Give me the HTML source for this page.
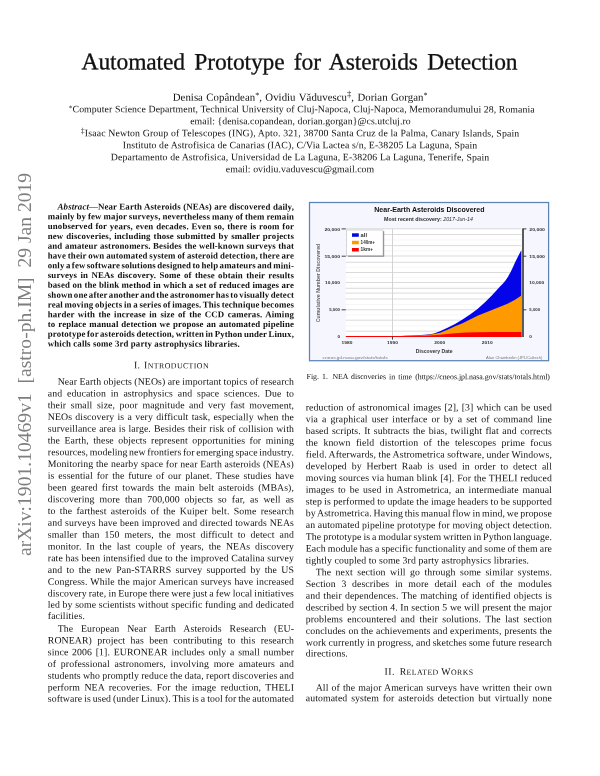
<!DOCTYPE html>
<html lang="en">
<head>
<meta charset="utf-8">
<title>Automated Prototype for Asteroids Detection</title>
<style>
html,body{margin:0;padding:0;background:#fff;}
body{width:600px;height:776px;position:relative;overflow:hidden;font-family:"Liberation Serif",serif;color:#111;}
.l{position:absolute;white-space:nowrap;margin:0;padding:0;font-weight:normal;}
.b{font-weight:bold;}
.b i{font-weight:bold;font-style:italic;}
sup{font-size:70%;vertical-align:baseline;position:relative;line-height:0;}
sup.st{top:-0.33em;font-size:74%;}
sup.dg{top:-0.42em;font-size:80%;}
.sc{font-size:80%;}
.stamp{position:absolute;white-space:nowrap;color:#7f7f7f;transform-origin:0 0;transform:rotate(-90deg);}
svg{position:absolute;}
.page{position:absolute;left:0;top:0;width:600px;height:776px;overflow:hidden;will-change:transform;}
</style>
</head>
<body>
<div class="page">
<h1 class="l t" style="left:81px;top:47px;transform:translate(0.60px,0.47px) rotate(0.03deg);font-size:23.50px;line-height:28.00px;letter-spacing:-0.116px;word-spacing:3.5px;-webkit-text-stroke:0.3px #111;">Automated Prototype for Asteroids Detection</h1>
<div class="l a" style="left:172px;top:90px;transform:translate(0.80px,0.76px) rotate(0.03deg);font-size:10.80px;line-height:13.00px;letter-spacing:0.027px;word-spacing:0.7px;">Denisa Copândean<sup class="st">*</sup>, Ovidiu Văduvescu<sup class="dg">‡</sup>, Dorian Gorgan<sup class="st">*</sup></div>
<div class="l f" style="left:68px;top:103px;transform:translate(0.80px,0.29px) rotate(0.03deg);font-size:9.80px;line-height:12.00px;letter-spacing:0.083px;"><sup class="st">*</sup>Computer Science Department, Technical University of Cluj-Napoca, Cluj-Napoca, Memorandumului 28, Romania</div>
<div class="l f" style="left:190px;top:115px;transform:translate(0.20px,0.29px) rotate(0.03deg);font-size:9.80px;line-height:12.00px;letter-spacing:0.053px;">email: {denisa.copandean, dorian.gorgan}@cs.utcluj.ro</div>
<div class="l f" style="left:80px;top:127px;transform:translate(0.80px,0.29px) rotate(0.03deg);font-size:9.80px;line-height:12.00px;letter-spacing:0.136px;"><sup class="dg">‡</sup>Isaac Newton Group of Telescopes (ING), Apto. 321, 38700 Santa Cruz de la Palma, Canary Islands, Spain</div>
<div class="l f" style="left:122px;top:139px;transform:translate(0.80px,0.29px) rotate(0.03deg);font-size:9.80px;line-height:12.00px;letter-spacing:0.121px;">Instituto de Astrofisica de Canarias (IAC), C/Via Lactea s/n, E-38205 La Laguna, Spain</div>
<div class="l f" style="left:110px;top:151px;transform:translate(0.80px,0.29px) rotate(0.03deg);font-size:9.80px;line-height:12.00px;letter-spacing:0.109px;">Departamento de Astrofisica, Universidad de La Laguna, E-38206 La Laguna, Tenerife, Spain</div>
<div class="l f" style="left:225px;top:163px;transform:translate(0.80px,0.29px) rotate(0.03deg);font-size:9.80px;line-height:12.00px;letter-spacing:0.062px;">email: ovidiu.vaduvescu@gmail.com</div>
<div class="l b" style="left:57px;top:202px;transform:translate(0.60px,0.58px) rotate(0.03deg);font-size:8.82px;line-height:9.79px;width:236.40px;word-spacing:0.102px;letter-spacing:0.130px;"><i>Abstract</i>—Near Earth Asteroids (NEAs) are discovered daily,</div>
<div class="l b" style="left:47px;top:212px;transform:translate(0.80px,0.37px) rotate(0.03deg);font-size:8.82px;line-height:9.79px;width:246.20px;word-spacing:-0.414px;letter-spacing:0.130px;">mainly by few major surveys, nevertheless many of them remain</div>
<div class="l b" style="left:47px;top:222px;transform:translate(0.80px,0.16px) rotate(0.03deg);font-size:8.82px;line-height:9.79px;width:246.20px;word-spacing:0.487px;letter-spacing:0.130px;">unobserved for years, even decades. Even so, there is room for</div>
<div class="l b" style="left:47px;top:231px;transform:translate(0.80px,0.95px) rotate(0.03deg);font-size:8.82px;line-height:9.79px;width:246.20px;word-spacing:0.633px;letter-spacing:0.130px;">new discoveries, including those submitted by smaller projects</div>
<div class="l b" style="left:47px;top:241px;transform:translate(0.80px,0.74px) rotate(0.03deg);font-size:8.82px;line-height:9.79px;width:246.20px;word-spacing:0.180px;letter-spacing:0.130px;">and amateur astronomers. Besides the well-known surveys that</div>
<div class="l b" style="left:47px;top:251px;transform:translate(0.80px,0.53px) rotate(0.03deg);font-size:8.82px;line-height:9.79px;width:246.20px;word-spacing:-0.475px;letter-spacing:0.130px;">have their own automated system of asteroid detection, there are</div>
<div class="l b" style="left:47px;top:261px;transform:translate(0.80px,0.32px) rotate(0.03deg);font-size:8.82px;line-height:9.79px;width:246.20px;word-spacing:-0.935px;letter-spacing:0.130px;">only a few software solutions designed to help amateurs and mini-</div>
<div class="l b" style="left:47px;top:271px;transform:translate(0.80px,0.11px) rotate(0.03deg);font-size:8.82px;line-height:9.79px;width:246.20px;word-spacing:1.051px;letter-spacing:0.130px;">surveys in NEAs discovery. Some of these obtain their results</div>
<div class="l b" style="left:47px;top:280px;transform:translate(0.80px,0.90px) rotate(0.03deg);font-size:8.82px;line-height:9.79px;width:246.20px;word-spacing:0.083px;letter-spacing:0.130px;">based on the blink method in which a set of reduced images are</div>
<div class="l b" style="left:47px;top:290px;transform:translate(0.80px,0.69px) rotate(0.03deg);font-size:8.82px;line-height:9.79px;width:246.20px;word-spacing:-0.934px;letter-spacing:0.130px;">shown one after another and the astronomer has to visually detect</div>
<div class="l b" style="left:47px;top:300px;transform:translate(0.80px,0.48px) rotate(0.03deg);font-size:8.82px;line-height:9.79px;width:246.20px;word-spacing:-0.646px;letter-spacing:0.130px;">real moving objects in a series of images. This technique becomes</div>
<div class="l b" style="left:47px;top:310px;transform:translate(0.80px,0.27px) rotate(0.03deg);font-size:8.82px;line-height:9.79px;width:246.20px;word-spacing:1.146px;letter-spacing:0.130px;">harder with the increase in size of the CCD cameras. Aiming</div>
<div class="l b" style="left:47px;top:320px;transform:translate(0.80px,0.06px) rotate(0.03deg);font-size:8.82px;line-height:9.79px;width:246.20px;word-spacing:0.526px;letter-spacing:0.130px;">to replace manual detection we propose an automated pipeline</div>
<div class="l b" style="left:47px;top:329px;transform:translate(0.80px,0.85px) rotate(0.03deg);font-size:8.82px;line-height:9.79px;width:246.20px;word-spacing:-0.802px;letter-spacing:0.130px;">prototype for asteroids detection, written in Python under Linux,</div>
<div class="l b" style="left:47px;top:339px;transform:translate(0.80px,0.64px) rotate(0.03deg);font-size:8.82px;line-height:9.79px;width:246.20px;letter-spacing:0.130px;">which calls some 3rd party astrophysics libraries.</div>
<div class="l p" style="left:57px;top:375px;transform:translate(0.70px,0.81px) rotate(0.03deg);font-size:9.80px;line-height:11.76px;width:236.30px;word-spacing:-0.155px;letter-spacing:0.090px;">Near Earth objects (NEOs) are important topics of research</div>
<div class="l p" style="left:47px;top:387px;transform:translate(0.80px,0.57px) rotate(0.03deg);font-size:9.80px;line-height:11.76px;width:246.20px;word-spacing:2.292px;letter-spacing:0.090px;">and education in astrophysics and space sciences. Due to</div>
<div class="l p" style="left:47px;top:399px;transform:translate(0.80px,0.33px) rotate(0.03deg);font-size:9.80px;line-height:11.76px;width:246.20px;word-spacing:1.985px;letter-spacing:0.090px;">their small size, poor magnitude and very fast movement,</div>
<div class="l p" style="left:47px;top:411px;transform:translate(0.80px,0.09px) rotate(0.03deg);font-size:9.80px;line-height:11.76px;width:246.20px;word-spacing:0.716px;letter-spacing:0.090px;">NEOs discovery is a very difficult task, especially when the</div>
<div class="l p" style="left:47px;top:422px;transform:translate(0.80px,0.85px) rotate(0.03deg);font-size:9.80px;line-height:11.76px;width:246.20px;word-spacing:0.435px;letter-spacing:0.090px;">surveillance area is large. Besides their risk of collision with</div>
<div class="l p" style="left:47px;top:434px;transform:translate(0.80px,0.61px) rotate(0.03deg);font-size:9.80px;line-height:11.76px;width:246.20px;word-spacing:1.918px;letter-spacing:0.090px;">the Earth, these objects represent opportunities for mining</div>
<div class="l p" style="left:47px;top:446px;transform:translate(0.80px,0.37px) rotate(0.03deg);font-size:9.80px;line-height:11.76px;width:246.20px;word-spacing:-0.916px;letter-spacing:0.090px;">resources, modeling new frontiers for emerging space industry.</div>
<div class="l p" style="left:47px;top:458px;transform:translate(0.80px,0.13px) rotate(0.03deg);font-size:9.80px;line-height:11.76px;width:246.20px;word-spacing:0.184px;letter-spacing:0.090px;">Monitoring the nearby space for near Earth asteroids (NEAs)</div>
<div class="l p" style="left:47px;top:469px;transform:translate(0.80px,0.89px) rotate(0.03deg);font-size:9.80px;line-height:11.76px;width:246.20px;word-spacing:1.262px;letter-spacing:0.090px;">is essential for the future of our planet. These studies have</div>
<div class="l p" style="left:47px;top:481px;transform:translate(0.80px,0.65px) rotate(0.03deg);font-size:9.80px;line-height:11.76px;width:246.20px;word-spacing:1.735px;letter-spacing:0.090px;">been geared first towards the main belt asteroids (MBAs),</div>
<div class="l p" style="left:47px;top:493px;transform:translate(0.80px,0.41px) rotate(0.03deg);font-size:9.80px;line-height:11.76px;width:246.20px;word-spacing:2.442px;letter-spacing:0.090px;">discovering more than 700,000 objects so far, as well as</div>
<div class="l p" style="left:47px;top:505px;transform:translate(0.80px,0.17px) rotate(0.03deg);font-size:9.80px;line-height:11.76px;width:246.20px;word-spacing:1.737px;letter-spacing:0.090px;">to the farthest asteroids of the Kuiper belt. Some research</div>
<div class="l p" style="left:47px;top:516px;transform:translate(0.80px,0.93px) rotate(0.03deg);font-size:9.80px;line-height:11.76px;width:246.20px;word-spacing:0.286px;letter-spacing:0.090px;">and surveys have been improved and directed towards NEAs</div>
<div class="l p" style="left:47px;top:528px;transform:translate(0.80px,0.69px) rotate(0.03deg);font-size:9.80px;line-height:11.76px;width:246.20px;word-spacing:2.499px;letter-spacing:0.090px;">smaller than 150 meters, the most difficult to detect and</div>
<div class="l p" style="left:47px;top:540px;transform:translate(0.80px,0.45px) rotate(0.03deg);font-size:9.80px;line-height:11.76px;width:246.20px;word-spacing:2.338px;letter-spacing:0.090px;">monitor. In the last couple of years, the NEAs discovery</div>
<div class="l p" style="left:47px;top:552px;transform:translate(0.80px,0.21px) rotate(0.03deg);font-size:9.80px;line-height:11.76px;width:246.20px;word-spacing:0.114px;letter-spacing:0.090px;">rate has been intensified due to the improved Catalina survey</div>
<div class="l p" style="left:47px;top:563px;transform:translate(0.80px,0.97px) rotate(0.03deg);font-size:9.80px;line-height:11.76px;width:246.20px;word-spacing:1.796px;letter-spacing:0.090px;">and to the new Pan-STARRS survey supported by the US</div>
<div class="l p" style="left:47px;top:575px;transform:translate(0.80px,0.73px) rotate(0.03deg);font-size:9.80px;line-height:11.76px;width:246.20px;word-spacing:0.418px;letter-spacing:0.090px;">Congress. While the major American surveys have increased</div>
<div class="l p" style="left:47px;top:587px;transform:translate(0.80px,0.49px) rotate(0.03deg);font-size:9.80px;line-height:11.76px;width:246.20px;word-spacing:-0.476px;letter-spacing:0.090px;">discovery rate, in Europe there were just a few local initiatives</div>
<div class="l p" style="left:47px;top:598px;transform:translate(0.80px,0.75px) rotate(0.03deg);font-size:9.80px;line-height:11.76px;width:246.20px;word-spacing:0.022px;letter-spacing:0.090px;">led by some scientists without specific funding and dedicated</div>
<div class="l p" style="left:47px;top:610px;transform:translate(0.80px,0.01px) rotate(0.03deg);font-size:9.80px;line-height:11.76px;width:246.20px;letter-spacing:0.090px;">facilities.</div>
<div class="l p" style="left:57px;top:622px;transform:translate(0.70px,0.77px) rotate(0.03deg);font-size:9.80px;line-height:11.76px;width:236.30px;word-spacing:5.307px;letter-spacing:0.090px;">The European Near Earth Asteroids Research (EU-</div>
<div class="l p" style="left:47px;top:634px;transform:translate(0.80px,0.53px) rotate(0.03deg);font-size:9.80px;line-height:11.76px;width:246.20px;word-spacing:2.800px;letter-spacing:0.090px;">RONEAR) project has been contributing to this research</div>
<div class="l p" style="left:47px;top:646px;transform:translate(0.80px,0.29px) rotate(0.03deg);font-size:9.80px;line-height:11.76px;width:246.20px;word-spacing:1.165px;letter-spacing:0.090px;">since 2006 [1]. EURONEAR includes only a small number</div>
<div class="l p" style="left:47px;top:658px;transform:translate(0.80px,0.05px) rotate(0.03deg);font-size:9.80px;line-height:11.76px;width:246.20px;word-spacing:2.147px;letter-spacing:0.090px;">of professional astronomers, involving more amateurs and</div>
<div class="l p" style="left:47px;top:669px;transform:translate(0.80px,0.81px) rotate(0.03deg);font-size:9.80px;line-height:11.76px;width:246.20px;word-spacing:-0.280px;letter-spacing:0.090px;">students who promptly reduce the data, report discoveries and</div>
<div class="l p" style="left:47px;top:681px;transform:translate(0.80px,0.57px) rotate(0.03deg);font-size:9.80px;line-height:11.76px;width:246.20px;word-spacing:1.894px;letter-spacing:0.090px;">perform NEA recoveries. For the image reduction, THELI</div>
<div class="l p" style="left:47px;top:692px;transform:translate(0.80px,0.73px) rotate(0.03deg);font-size:9.80px;line-height:11.76px;width:246.20px;word-spacing:-0.634px;letter-spacing:0.090px;">software is used (under Linux). This is a tool for the automated</div>
<div class="l p" style="left:305px;top:401px;transform:translate(0.75px,0.56px) rotate(0.03deg);font-size:9.80px;line-height:11.76px;width:246.20px;word-spacing:0.588px;letter-spacing:0.090px;">reduction of astronomical images [2], [3] which can be used</div>
<div class="l p" style="left:305px;top:413px;transform:translate(0.75px,0.32px) rotate(0.03deg);font-size:9.80px;line-height:11.76px;width:246.20px;word-spacing:1.455px;letter-spacing:0.090px;">via a graphical user interface or by a set of command line</div>
<div class="l p" style="left:305px;top:425px;transform:translate(0.75px,0.08px) rotate(0.03deg);font-size:9.80px;line-height:11.76px;width:246.20px;word-spacing:0.928px;letter-spacing:0.090px;">based scripts. It subtracts the bias, twilight flat and corrects</div>
<div class="l p" style="left:305px;top:436px;transform:translate(0.75px,0.84px) rotate(0.03deg);font-size:9.80px;line-height:11.76px;width:246.20px;word-spacing:2.868px;letter-spacing:0.090px;">the known field distortion of the telescopes prime focus</div>
<div class="l p" style="left:305px;top:448px;transform:translate(0.75px,0.60px) rotate(0.03deg);font-size:9.80px;line-height:11.76px;width:246.20px;word-spacing:-0.129px;letter-spacing:0.090px;">field. Afterwards, the Astrometrica software, under Windows,</div>
<div class="l p" style="left:305px;top:460px;transform:translate(0.75px,0.36px) rotate(0.03deg);font-size:9.80px;line-height:11.76px;width:246.20px;word-spacing:2.298px;letter-spacing:0.090px;">developed by Herbert Raab is used in order to detect all</div>
<div class="l p" style="left:305px;top:472px;transform:translate(0.75px,0.12px) rotate(0.03deg);font-size:9.80px;line-height:11.76px;width:246.20px;word-spacing:0.261px;letter-spacing:0.090px;">moving sources via human blink [4]. For the THELI reduced</div>
<div class="l p" style="left:305px;top:483px;transform:translate(0.75px,0.88px) rotate(0.03deg);font-size:9.80px;line-height:11.76px;width:246.20px;word-spacing:1.397px;letter-spacing:0.090px;">images to be used in Astrometrica, an intermediate manual</div>
<div class="l p" style="left:305px;top:495px;transform:translate(0.75px,0.64px) rotate(0.03deg);font-size:9.80px;line-height:11.76px;width:246.20px;word-spacing:-0.198px;letter-spacing:0.090px;">step is performed to update the image headers to be supported</div>
<div class="l p" style="left:305px;top:507px;transform:translate(0.75px,0.40px) rotate(0.03deg);font-size:9.80px;line-height:11.76px;width:246.20px;word-spacing:-0.727px;letter-spacing:0.090px;">by Astrometrica. Having this manual flow in mind, we propose</div>
<div class="l p" style="left:305px;top:519px;transform:translate(0.75px,0.16px) rotate(0.03deg);font-size:9.80px;line-height:11.76px;width:246.20px;word-spacing:0.119px;letter-spacing:0.090px;">an automated pipeline prototype for moving object detection.</div>
<div class="l p" style="left:305px;top:530px;transform:translate(0.75px,0.92px) rotate(0.03deg);font-size:9.80px;line-height:11.76px;width:246.20px;word-spacing:-0.647px;letter-spacing:0.090px;">The prototype is a modular system written in Python language.</div>
<div class="l p" style="left:305px;top:542px;transform:translate(0.75px,0.68px) rotate(0.03deg);font-size:9.80px;line-height:11.76px;width:246.20px;word-spacing:-0.523px;letter-spacing:0.090px;">Each module has a specific functionality and some of them are</div>
<div class="l p" style="left:305px;top:554px;transform:translate(0.75px,0.44px) rotate(0.03deg);font-size:9.80px;line-height:11.76px;width:246.20px;letter-spacing:0.090px;">tightly coupled to some 3rd party astrophysics libraries.</div>
<div class="l p" style="left:315px;top:566px;transform:translate(0.65px,0.20px) rotate(0.03deg);font-size:9.80px;line-height:11.76px;width:236.30px;word-spacing:1.888px;letter-spacing:0.090px;">The next section will go through some similar systems.</div>
<div class="l p" style="left:305px;top:577px;transform:translate(0.75px,0.96px) rotate(0.03deg);font-size:9.80px;line-height:11.76px;width:246.20px;word-spacing:3.086px;letter-spacing:0.090px;">Section 3 describes in more detail each of the modules</div>
<div class="l p" style="left:305px;top:589px;transform:translate(0.75px,0.72px) rotate(0.03deg);font-size:9.80px;line-height:11.76px;width:246.20px;word-spacing:0.638px;letter-spacing:0.090px;">and their dependences. The matching of identified objects is</div>
<div class="l p" style="left:305px;top:601px;transform:translate(0.75px,0.48px) rotate(0.03deg);font-size:9.80px;line-height:11.76px;width:246.20px;word-spacing:0.059px;letter-spacing:0.090px;">described by section 4. In section 5 we will present the major</div>
<div class="l p" style="left:305px;top:613px;transform:translate(0.75px,0.24px) rotate(0.03deg);font-size:9.80px;line-height:11.76px;width:246.20px;word-spacing:1.878px;letter-spacing:0.090px;">problems encountered and their solutions. The last section</div>
<div class="l p" style="left:305px;top:625px;transform:translate(0.75px,0.00px) rotate(0.03deg);font-size:9.80px;line-height:11.76px;width:246.20px;word-spacing:0.133px;letter-spacing:0.090px;">concludes on the achievements and experiments, presents the</div>
<div class="l p" style="left:305px;top:636px;transform:translate(0.75px,0.76px) rotate(0.03deg);font-size:9.80px;line-height:11.76px;width:246.20px;word-spacing:-0.212px;letter-spacing:0.090px;">work currently in progress, and sketches some future research</div>
<div class="l p" style="left:305px;top:647px;transform:translate(0.75px,0.52px) rotate(0.03deg);font-size:9.80px;line-height:11.76px;width:246.20px;letter-spacing:0.090px;">directions.</div>
<div class="l p" style="left:315px;top:681px;transform:translate(0.65px,0.76px) rotate(0.03deg);font-size:9.80px;line-height:11.76px;width:236.30px;word-spacing:0.514px;letter-spacing:0.090px;">All of the major American surveys have written their own</div>
<div class="l p" style="left:305px;top:692px;transform:translate(0.75px,0.22px) rotate(0.03deg);font-size:9.80px;line-height:11.76px;width:246.20px;word-spacing:1.258px;letter-spacing:0.090px;">automated system for asteroids detection but virtually none</div>
<h2 class="l h" style="left:133px;top:359px;transform:translate(0.90px,0.29px) rotate(0.03deg);font-size:9.80px;line-height:12.00px;letter-spacing:0.428px;">I.<span style="display:inline-block;width:3.6px"></span>I<span class="sc">NTRODUCTION</span></h2>
<h2 class="l h" style="left:384px;top:665px;transform:translate(0.60px,0.69px) rotate(0.03deg);font-size:9.80px;line-height:12.00px;letter-spacing:0.418px;">II.<span style="display:inline-block;width:4.8px"></span>R<span class="sc">ELATED</span> W<span class="sc">ORKS</span></h2>
<div class="l c" style="left:306px;top:372px;transform:translate(0.60px,0.15px) rotate(0.03deg);font-size:7.84px;line-height:10.00px;letter-spacing:-0.030px;word-spacing:1.2px;">Fig. 1.<span style="display:inline-block;width:4.6px"></span>NEA discoveries in time (https://cneos.jpl.nasa.gov/stats/totals.html)</div>
<div class="stamp" style="left:13.50px;top:556.20px;font-size:19.60px;line-height:22.54px;letter-spacing:0.000px;">arXiv:1901.10469v1&nbsp; [astro-ph.IM]&nbsp; 29 Jan 2019</div>
<svg style="left:300px;top:195px" width="260" height="175" viewBox="300 195 260 175" font-family="'Liberation Sans',sans-serif">
<rect x="309.5" y="202.5" width="239.1" height="158.2" fill="#f6f6fe" stroke="#5b84b6" stroke-width="1.25"/>
<rect x="345.8" y="228.8" width="175.6" height="107.6" fill="#ffffff"/>
<line x1="345.8" x2="521.4" y1="228.80" y2="228.80" stroke="#d2d2d2" stroke-width="0.8"/>
<line x1="345.8" x2="521.4" y1="234.50" y2="234.50" stroke="#d2d2d2" stroke-width="0.8"/>
<line x1="345.8" x2="521.4" y1="245.60" y2="245.60" stroke="#d2d2d2" stroke-width="0.8"/>
<line x1="345.8" x2="521.4" y1="256.00" y2="256.00" stroke="#d2d2d2" stroke-width="0.8"/>
<line x1="345.8" x2="521.4" y1="262.30" y2="262.30" stroke="#d2d2d2" stroke-width="0.8"/>
<line x1="345.8" x2="521.4" y1="272.50" y2="272.50" stroke="#d2d2d2" stroke-width="0.8"/>
<line x1="345.8" x2="521.4" y1="282.50" y2="282.50" stroke="#d2d2d2" stroke-width="0.8"/>
<line x1="345.8" x2="521.4" y1="288.30" y2="288.30" stroke="#d2d2d2" stroke-width="0.8"/>
<line x1="345.8" x2="521.4" y1="293.10" y2="293.10" stroke="#d2d2d2" stroke-width="0.8"/>
<line x1="345.8" x2="521.4" y1="299.00" y2="299.00" stroke="#d2d2d2" stroke-width="0.8"/>
<line x1="345.8" x2="521.4" y1="309.80" y2="309.80" stroke="#d2d2d2" stroke-width="0.8"/>
<line x1="345.8" x2="521.4" y1="320.20" y2="320.20" stroke="#d2d2d2" stroke-width="0.8"/>
<line x1="345.8" x2="521.4" y1="331.20" y2="331.20" stroke="#d2d2d2" stroke-width="0.8"/>
<line x1="345.8" x2="521.4" y1="240.00" y2="240.00" stroke="#f0f0f0" stroke-width="0.6"/>
<line x1="345.8" x2="521.4" y1="251.00" y2="251.00" stroke="#f0f0f0" stroke-width="0.6"/>
<line x1="345.8" x2="521.4" y1="267.30" y2="267.30" stroke="#f0f0f0" stroke-width="0.6"/>
<line x1="345.8" x2="521.4" y1="277.30" y2="277.30" stroke="#f0f0f0" stroke-width="0.6"/>
<line x1="345.8" x2="521.4" y1="304.50" y2="304.50" stroke="#f0f0f0" stroke-width="0.6"/>
<line x1="345.8" x2="521.4" y1="315.00" y2="315.00" stroke="#f0f0f0" stroke-width="0.6"/>
<line x1="345.8" x2="521.4" y1="326.00" y2="326.00" stroke="#f0f0f0" stroke-width="0.6"/>
<line x1="392.5" x2="392.5" y1="228.8" y2="336.4" stroke="#cfcfcf" stroke-width="0.9"/>
<path d="M396.0 337.0 L396.0 336.2 L405.0 335.7 L418.0 335.2 L428.0 334.6 L434.0 333.4 L440.0 331.2 L447.5 327.7 L455.0 324.0 L462.5 319.5 L470.0 314.5 L477.5 309.0 L485.0 302.2 L492.5 294.7 L500.0 286.5 L503.0 283.6 L505.5 280.6 L508.0 276.8 L510.5 272.2 L513.0 267.0 L515.0 262.5 L518.0 256.5 L521.0 250.8 L521.4 250.4 L521.4 337.0 Z" fill="#0404e8"/>
<path d="M400.0 337.0 L400.0 336.2 L405.0 335.8 L418.0 335.4 L428.0 334.8 L434.0 334.0 L440.0 332.7 L447.5 329.7 L455.0 326.2 L462.5 323.2 L470.0 319.5 L477.5 315.7 L485.0 312.7 L492.5 309.7 L500.0 306.7 L507.5 303.7 L515.0 299.7 L521.4 295.6 L521.4 337.0 Z" fill="#ff9900"/>
<path d="M400.0 337.0 L400.0 336.3 L415.0 335.9 L430.0 335.4 L440.0 334.8 L455.0 333.3 L466.0 332.6 L477.5 332.2 L495.0 332.0 L521.4 331.9 L521.4 337.0 Z" fill="#ff0000"/>
<line x1="345.8" x2="521.4" y1="336.50" y2="336.50" stroke="#ff0000" stroke-width="1"/>
<line x1="523.0" x2="523.0" y1="228.4" y2="337.0" stroke="#353535" stroke-width="1.6"/>
<line x1="523.1" x2="526.4" y1="309.80" y2="309.80" stroke="#303030" stroke-width="0.9"/>
<line x1="341.6" x2="345.8" y1="309.80" y2="309.80" stroke="#303030" stroke-width="0.9"/>
<line x1="523.1" x2="526.4" y1="256.20" y2="256.20" stroke="#303030" stroke-width="0.9"/>
<line x1="341.6" x2="345.8" y1="256.20" y2="256.20" stroke="#303030" stroke-width="0.9"/>
<line x1="523.1" x2="526.4" y1="228.90" y2="228.90" stroke="#303030" stroke-width="0.9"/>
<line x1="341.6" x2="345.8" y1="228.90" y2="228.90" stroke="#303030" stroke-width="0.9"/>
<line x1="392.5" x2="392.5" y1="336.4" y2="339.6" stroke="#303030" stroke-width="0.9"/>
<rect x="347.8" y="231.2" width="36.4" height="25.6" fill="#8f8f94"/>
<rect x="346.6" y="230" width="36.4" height="25.6" fill="#ffffff" stroke="#b0b0b0" stroke-width="0.5"/>
<rect x="352" y="233.3" width="6.8" height="3.5" fill="#0404e8"/>
<text x="360.6" y="236.6" font-size="4.7" font-weight="bold" fill="#1a1a1a" fill-opacity="0.92" textLength="6.4" lengthAdjust="spacingAndGlyphs">all</text>
<rect x="352" y="240.8" width="6.8" height="3.5" fill="#ff9900"/>
<text x="360.6" y="244.1" font-size="4.7" font-weight="bold" fill="#1a1a1a" fill-opacity="0.92" textLength="14.4" lengthAdjust="spacingAndGlyphs">140m+</text>
<rect x="352" y="248.0" width="6.8" height="3.5" fill="#ff0000"/>
<text x="360.6" y="251.3" font-size="4.7" font-weight="bold" fill="#1a1a1a" fill-opacity="0.92" textLength="12.6" lengthAdjust="spacingAndGlyphs">1km+</text>
<text x="374.2" y="211.8" font-size="6.6" font-weight="bold" fill="#111" textLength="110.4" lengthAdjust="spacingAndGlyphs">Near-Earth Asteroids Discovered</text>
<text x="384" y="221.2" font-size="4.6" font-weight="bold" fill="#222" fill-opacity="0.95" textLength="89" lengthAdjust="spacingAndGlyphs">Most recent discovery: <tspan font-style="italic" font-weight="normal">2017-Jun-14</tspan></text>
<text x="324.4" y="230.5" font-size="4.3" font-weight="bold" fill="#1a1a1a" fill-opacity="0.92" textLength="15.6" lengthAdjust="spacingAndGlyphs">20,000</text>
<text x="529.3" y="230.5" font-size="4.3" font-weight="bold" fill="#1a1a1a" fill-opacity="0.92" textLength="15.6" lengthAdjust="spacingAndGlyphs">20,000</text>
<text x="324.4" y="257.8" font-size="4.3" font-weight="bold" fill="#1a1a1a" fill-opacity="0.92" textLength="15.6" lengthAdjust="spacingAndGlyphs">15,000</text>
<text x="529.3" y="257.8" font-size="4.3" font-weight="bold" fill="#1a1a1a" fill-opacity="0.92" textLength="15.6" lengthAdjust="spacingAndGlyphs">15,000</text>
<text x="325.0" y="283.9" font-size="4.3" font-weight="bold" fill="#1a1a1a" fill-opacity="0.92" textLength="15.0" lengthAdjust="spacingAndGlyphs">10,000</text>
<text x="529.3" y="283.9" font-size="4.3" font-weight="bold" fill="#1a1a1a" fill-opacity="0.92" textLength="15.0" lengthAdjust="spacingAndGlyphs">10,000</text>
<text x="329.2" y="311.4" font-size="4.3" font-weight="bold" fill="#1a1a1a" fill-opacity="0.92" textLength="10.8" lengthAdjust="spacingAndGlyphs">5,000</text>
<text x="529.3" y="311.4" font-size="4.3" font-weight="bold" fill="#1a1a1a" fill-opacity="0.92" textLength="10.8" lengthAdjust="spacingAndGlyphs">5,000</text>
<text x="337.4" y="337.8" font-size="4.3" font-weight="bold" fill="#1a1a1a" fill-opacity="0.92" textLength="2.6" lengthAdjust="spacingAndGlyphs">0</text>
<text x="529.3" y="337.8" font-size="4.3" font-weight="bold" fill="#1a1a1a" fill-opacity="0.92" textLength="2.6" lengthAdjust="spacingAndGlyphs">0</text>
<text x="341.6" y="343.8" font-size="4.3" font-weight="bold" fill="#1a1a1a" fill-opacity="0.92" textLength="10.8" lengthAdjust="spacingAndGlyphs">1980</text>
<text x="387.1" y="343.8" font-size="4.3" font-weight="bold" fill="#1a1a1a" fill-opacity="0.92" textLength="10.8" lengthAdjust="spacingAndGlyphs">1990</text>
<text x="434.3" y="343.8" font-size="4.3" font-weight="bold" fill="#1a1a1a" fill-opacity="0.92" textLength="10.8" lengthAdjust="spacingAndGlyphs">2000</text>
<text x="481.8" y="343.8" font-size="4.3" font-weight="bold" fill="#1a1a1a" fill-opacity="0.92" textLength="10.8" lengthAdjust="spacingAndGlyphs">2010</text>
<text x="415.8" y="353.2" font-size="5" font-weight="bold" fill="#222" fill-opacity="0.9" textLength="36.8" lengthAdjust="spacingAndGlyphs">Discovery Date</text>
<text transform="translate(319.6 322.2) rotate(-90)" font-size="4.7" font-weight="bold" fill="#333" fill-opacity="0.75" textLength="78.4" lengthAdjust="spacingAndGlyphs">Cumulative Number Discovered</text>
<text x="322.6" y="358.8" font-size="3.6" fill="#777" textLength="65" lengthAdjust="spacingAndGlyphs">cneos.jpl.nasa.gov/stats/totals</text>
<text x="486" y="358.8" font-size="3.6" fill="#777" textLength="56.5" lengthAdjust="spacingAndGlyphs">Alan Chamberlin (JPL/Caltech)</text>
</svg>
</div>
</body>
</html>
